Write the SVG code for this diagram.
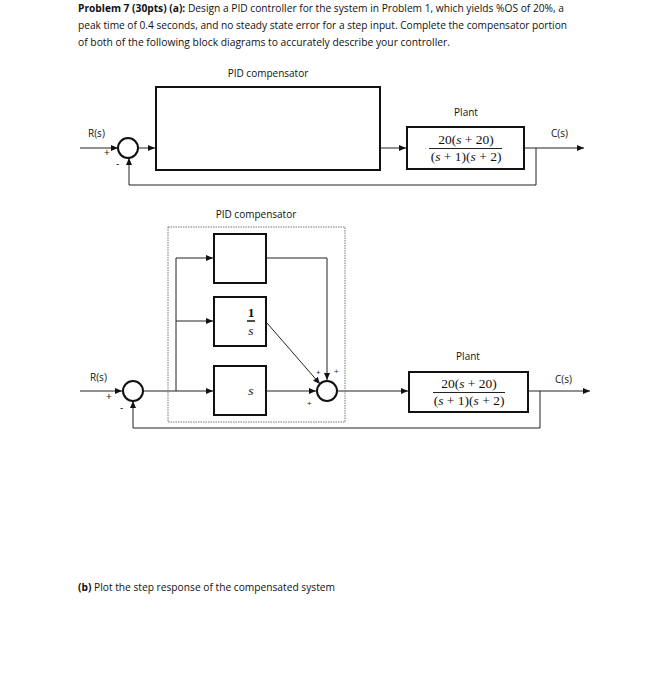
<svg xmlns="http://www.w3.org/2000/svg" width="656" height="700" viewBox="0 0 656 700">
<defs>
<marker id="ah" markerWidth="8" markerHeight="6" refX="7" refY="3" orient="auto" markerUnits="userSpaceOnUse">
<path d="M0,0 L7,3 L0,6 Z" fill="#111"/>
</marker>
<style>
.t{font-family:"Open Sans","Liberation Sans",sans-serif;fill:#111}
.hd{font-size:11px}
.lb{font-size:10px}
.m{font-family:"Liberation Serif",serif;font-size:13.5px;fill:#111}
.i{font-style:italic}
.blk{fill:none;stroke:#111;stroke-width:2}
.ln{fill:none;stroke:#222;stroke-width:1}
.sum{fill:#fff;stroke:#111;stroke-width:2}
</style>
</defs>
<rect width="656" height="700" fill="#fff"/>

<g id="header">
<text class="t hd" x="78" y="12" textLength="486" lengthAdjust="spacingAndGlyphs"><tspan font-weight="bold">Problem 7 (30pts) (a):</tspan> Design a PID controller for the system in Problem 1, which yields %OS of 20%, a</text>
<text class="t hd" x="78" y="29" textLength="489" lengthAdjust="spacingAndGlyphs">peak time of 0.4 seconds, and no steady state error for a step input.  Complete the compensator portion</text>
<text class="t hd" x="78" y="46" textLength="372" lengthAdjust="spacingAndGlyphs">of both of the following block diagrams to accurately describe your controller.</text>
</g>

<g id="connectors">
<line class="ln" x1="80" y1="148" x2="118" y2="148" marker-end="url(#ah)"/>
<line class="ln" x1="138" y1="148" x2="155" y2="148" marker-end="url(#ah)"/>
<line class="ln" x1="381" y1="148" x2="406" y2="148" marker-end="url(#ah)"/>
<line class="ln" x1="525" y1="148" x2="584" y2="148" marker-end="url(#ah)"/>
<polyline class="ln" points="536,148 536,185 129,185 129,158" marker-end="url(#ah)"/>
<line class="ln" x1="80" y1="391" x2="122" y2="391" marker-end="url(#ah)"/>
<line class="ln" x1="142" y1="391" x2="213" y2="391" marker-end="url(#ah)"/>
<line class="ln" x1="176" y1="391" x2="176" y2="258"/>
<line class="ln" x1="176" y1="258" x2="213" y2="258" marker-end="url(#ah)"/>
<line class="ln" x1="176" y1="321" x2="213" y2="321" marker-end="url(#ah)"/>
<polyline class="ln" points="267,258 327,258 327,380" marker-end="url(#ah)"/>
<line class="ln" x1="267" y1="323" x2="320" y2="384" marker-end="url(#ah)"/>
<line class="ln" x1="267" y1="391" x2="316" y2="391" marker-end="url(#ah)"/>
<line class="ln" x1="337" y1="391" x2="408" y2="391" marker-end="url(#ah)"/>
<line class="ln" x1="529" y1="391" x2="590" y2="391" marker-end="url(#ah)"/>
<polyline class="ln" points="540,391 540,428 133,428 133,401" marker-end="url(#ah)"/>
</g>

<g id="top-diagram">
<g id="top-labels">
<text class="t lb" x="88" y="137">R(s)</text>
<text class="t lb" x="104" y="156">+</text>
<text class="t lb" x="116" y="167">-</text>
<text class="t lb" x="551" y="137">C(s)</text>
</g>
<g id="sum1"><circle class="sum" cx="128" cy="148" r="10"/></g>
<g id="pid1">
<text class="t lb" x="268" y="77" text-anchor="middle">PID compensator</text>
<rect class="blk" x="156" y="87" width="224" height="83"/>
</g>
<g id="plant1">
<text class="t lb" x="466" y="116" text-anchor="middle">Plant</text>
<rect class="blk" x="407" y="127" width="117" height="42"/>
<text class="m" x="466" y="144" text-anchor="middle">20(<tspan class="i">s</tspan> + 20)</text>
<line class="ln" x1="429" y1="148.5" x2="502" y2="148.5"/>
<text class="m" x="466" y="161" text-anchor="middle">(<tspan class="i">s</tspan> + 1)(<tspan class="i">s</tspan> + 2)</text>
</g>
</g>

<g id="bottom-diagram">
<g id="bottom-labels">
<text class="t lb" x="90" y="381">R(s)</text>
<text class="t lb" x="106" y="400">+</text>
<text class="t lb" x="120" y="411">-</text>
<text class="t lb" x="555" y="383">C(s)</text>
<text class="t" font-size="8" x="316" y="375">+</text>
<text class="t" font-size="8" x="334" y="374">+</text>
<text class="t" font-size="8" x="307" y="406">+</text>
</g>
<g id="sum2"><circle class="sum" cx="133" cy="391" r="10"/></g>
<g id="pid2">
<text class="t lb" x="256" y="218" text-anchor="middle">PID compensator</text>
<rect x="168" y="227" width="177" height="195" fill="none" stroke="#777" stroke-width="1" stroke-dasharray="1.5 1"/>
</g>
<g id="kp"><rect class="blk" x="214" y="234" width="52" height="49"/></g>
<g id="ki">
<rect class="blk" x="214" y="297" width="52" height="49"/>
<text class="m" font-weight="bold" font-size="12" x="251" y="317" text-anchor="middle">1</text>
<line x1="247" y1="321" x2="255" y2="321" stroke="#111" stroke-width="1.5"/>
<text class="m i" font-size="13" x="251" y="335" text-anchor="middle">s</text>
</g>
<g id="kd">
<rect class="blk" x="214" y="366" width="52" height="49"/>
<text class="m i" font-size="14" x="251" y="395" text-anchor="middle">s</text>
</g>
<g id="sum3"><circle class="sum" cx="327" cy="391" r="10"/></g>
<g id="plant2">
<text class="t lb" x="468" y="360" text-anchor="middle">Plant</text>
<rect class="blk" x="409" y="372" width="119" height="40"/>
<text class="m" x="469" y="388" text-anchor="middle">20(<tspan class="i">s</tspan> + 20)</text>
<line class="ln" x1="433" y1="392.5" x2="505" y2="392.5"/>
<text class="m" x="469" y="405" text-anchor="middle">(<tspan class="i">s</tspan> + 1)(<tspan class="i">s</tspan> + 2)</text>
</g>
</g>

<g id="part-b">
<text class="t hd" x="78" y="591" textLength="257" lengthAdjust="spacingAndGlyphs"><tspan font-weight="bold">(b)</tspan> Plot the step response of the compensated system</text>
</g>
</svg>
